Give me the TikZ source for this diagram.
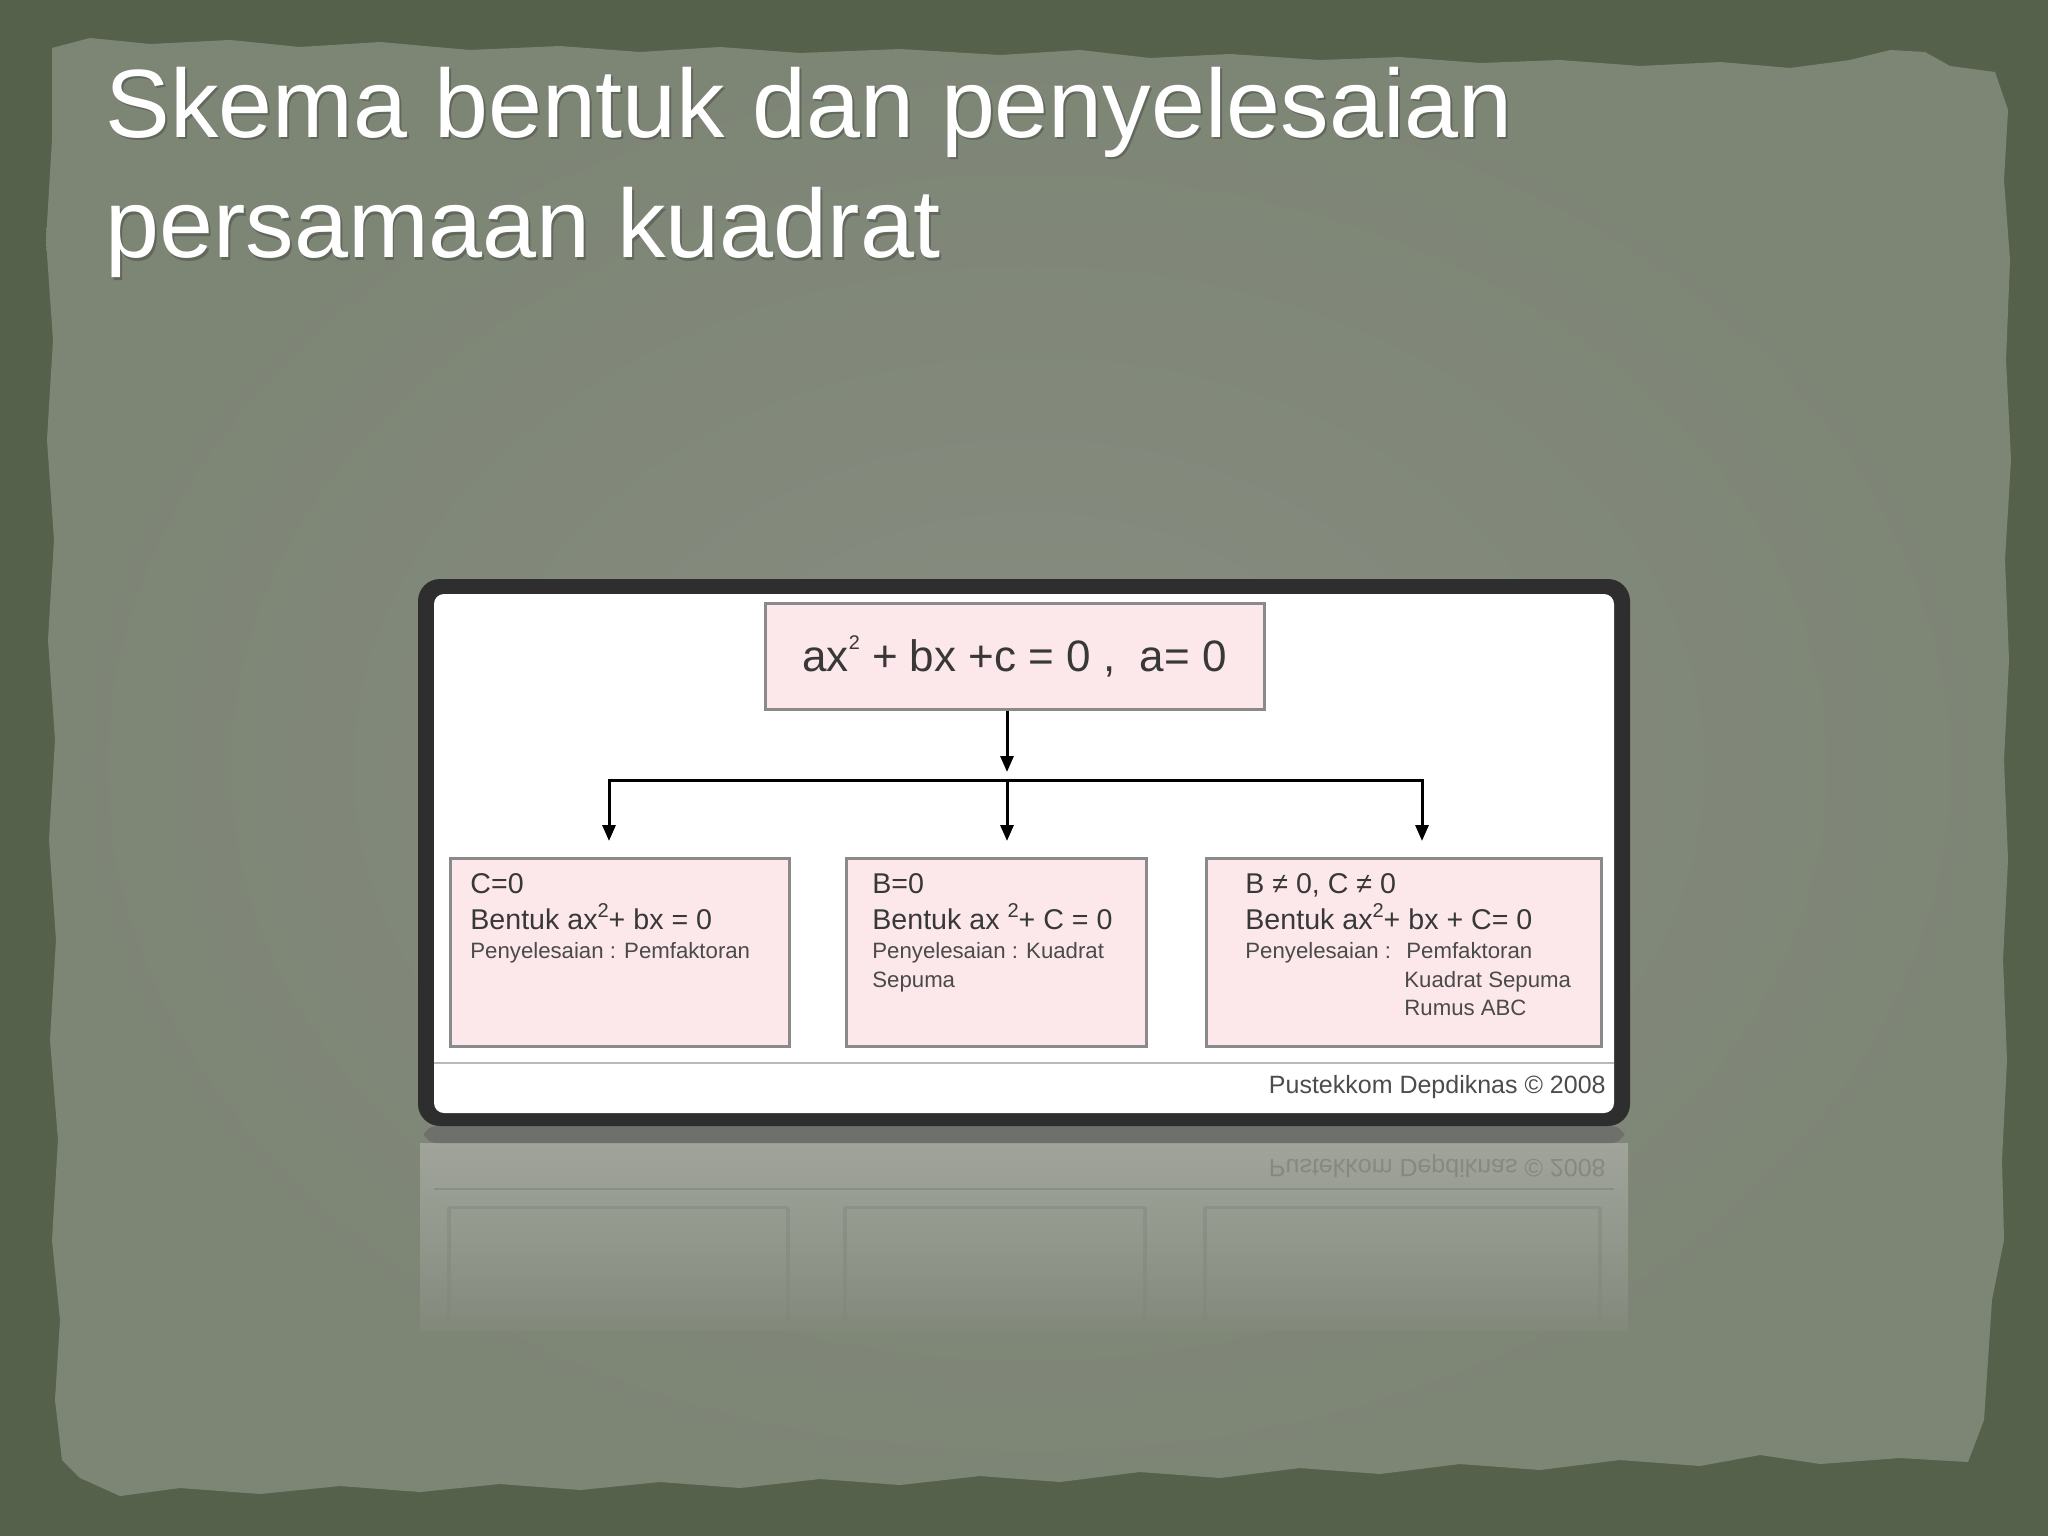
\documentclass[tikz,border=0pt]{standalone}
\usepackage{fontspec}
\usepackage{graphicx}
\setmainfont{Liberation Sans}
\usetikzlibrary{arrows.meta}
\definecolor{bgout}{HTML}{56614B}
\definecolor{paper}{HTML}{7D8575}
\definecolor{paperlight}{HTML}{878D81}
\definecolor{boxpink}{HTML}{FCE8EA}
\definecolor{boxline}{HTML}{8A8A8A}
\definecolor{txtdark}{HTML}{383838}
\definecolor{txtsmall}{HTML}{4A4A4A}
\definecolor{framecol}{HTML}{2E2E2E}
\definecolor{reflA}{HTML}{A0A49B}
\definecolor{reflB}{HTML}{82897B}
\definecolor{reflband}{HTML}{6E716B}
\newcommand\supsq{\raisebox{0.42em}{\scalebox{0.7}{2}}}
\newcommand\supsmall{\raisebox{0.5em}{\scalebox{0.45}{2}}}
\begin{document}
\begin{tikzpicture}[x=0.5pt,y=-0.5pt,
  pinkbox/.style={draw=boxline, fill=boxpink, line width=1.5pt, inner sep=0pt, anchor=north west},
  bigtxt/.style={font=\fontsize{14.3}{16}\selectfont, text=txtdark, inner sep=0pt, anchor=base west},
  smalltxt/.style={font=\fontsize{11.1}{13}\selectfont, text=txtsmall, inner sep=0pt, anchor=base west},
  foottxt/.style={font=\fontsize{12.5}{14}\selectfont, text=txtdark!90, inner sep=0pt, anchor=base east},
  titletxt/.style={font=\fontsize{48.5}{56}\selectfont, text=white, inner sep=0pt, anchor=base west},
  arr/.style={line width=1.5pt, -{Triangle[length=8pt,width=6.5pt]}},
  conn/.style={line width=1.5pt, line cap=rect}
]
\useasboundingbox (0,0) rectangle (2048,1536);
% background
\fill[bgout] (0,0) rectangle (2048,1536);
% torn paper
\shade[inner color=paperlight, outer color=paper]
 (52,48) -- (90,38) -- (150,44) -- (230,40) -- (300,47) -- (380,42) -- (470,50) -- (560,46) -- (640,52) -- (720,47) -- (800,53) -- (900,49) -- (1000,55) -- (1080,50) -- (1150,58) -- (1230,54) -- (1320,60) -- (1400,57) -- (1480,63) -- (1560,60) -- (1640,66) -- (1720,62) -- (1790,68) -- (1850,60) -- (1890,50) -- (1925,52) -- (1950,66) -- (1995,72)
 -- (2008,110) -- (2004,180) -- (2010,260) -- (2006,360) -- (2011,460) -- (2005,560) -- (2009,660) -- (2004,760) -- (2008,860) -- (2003,960) -- (2007,1060) -- (2002,1160) -- (2004,1240) -- (1992,1300) -- (1988,1360) -- (1984,1420) -- (1968,1462)
 -- (1900,1458) -- (1820,1464) -- (1760,1455) -- (1700,1466) -- (1620,1460) -- (1540,1470) -- (1460,1464) -- (1380,1474) -- (1300,1468) -- (1220,1478) -- (1140,1472) -- (1060,1482) -- (980,1476) -- (900,1485) -- (820,1479) -- (740,1488) -- (660,1482) -- (580,1490) -- (500,1484) -- (420,1492) -- (340,1486) -- (260,1494) -- (180,1488) -- (120,1496) -- (80,1478) -- (62,1460)
 -- (55,1400) -- (60,1320) -- (52,1240) -- (58,1140) -- (50,1040) -- (56,940) -- (49,840) -- (55,740) -- (48,640) -- (54,540) -- (47,440) -- (53,340) -- (46,240) -- (52,140) -- cycle;

% title
\node[titletxt, text=black, opacity=0.22] (t1s) at (107,140) {Skema bentuk dan penyelesaian};
\node[titletxt, text=black, opacity=0.22] (t2s) at (107,260) {persamaan kuadrat};
\node[titletxt] (t1) at (105,137) {Skema bentuk dan penyelesaian};
\node[titletxt] (t2) at (105,257) {persamaan kuadrat};

% reflection
\shade[top color=reflA, bottom color=reflB, middle color=reflA!55!reflB] (420,1143) rectangle (1628,1330);
\fill[reflband, rounded corners=6pt] (424,1126) rectangle (1624,1143);
\node[foottxt, yscale=-1, transform shape, opacity=0.28] (footr) at (1606,1159) {Pustekkom Depdiknas © 2008};
\draw[black, opacity=0.1, line width=1pt] (434,1189) -- (1614,1189);
\foreach \a/\b in {449/788, 845/1145, 1205/1600}{
  \draw[black, opacity=0.07, line width=1.5pt] (\a,1207) -- (\b,1207);
  \shade[top color=reflA!88!black, bottom color=reflB] (\a-1.5,1207) rectangle (\a+1.5,1320);
  \shade[top color=reflA!88!black, bottom color=reflB] (\b-1.5,1207) rectangle (\b+1.5,1320);
}

% frame
\fill[framecol, rounded corners=11pt] (418,579) rectangle (1630,1126);
\fill[white, rounded corners=5pt] (434,594) rectangle (1614,1113);
\draw[gray!55, line width=1pt] (434,1063) -- (1614,1063);
\node[foottxt] (foot) at (1606,1093) {Pustekkom Depdiknas © 2008};

% top box
\node[draw=boxline, fill=boxpink, line width=1.5pt, minimum width=249.5pt, minimum height=53pt,
      font=\fontsize{22}{26}\selectfont, text=txtdark, inner sep=0pt] (top) at (1014.5,656)
      {ax\supsmall\ + bx +c = 0 ,\ \ a= 0};

% bottom boxes
\node[pinkbox, minimum width=169.5pt, minimum height=94pt] (b1) at (449,857) {};
\node[pinkbox, minimum width=150pt, minimum height=94pt] (b2) at (845,857) {};
\node[pinkbox, minimum width=197.5pt, minimum height=94pt] (b3) at (1205,857) {};

% connectors
\coordinate (jt) at (1007,772);
\coordinate (j1) at (609,780);
\coordinate (j2) at (1007,780);
\coordinate (j3) at (1422,780);
\coordinate (a1) at (609,841);
\coordinate (a2) at (1007,841);
\coordinate (a3) at (1422,841);
\draw[arr] (top.south -| jt) -- (jt);
\draw[conn] (j1) -- (j3);
\draw[arr] (j1) -- (a1);
\draw[arr] (j2) -- (a2);
\draw[arr] (j3) -- (a3);

% box texts
\node[bigtxt] (b1l1) at (470,893) {C=0};
\node[bigtxt] (b1l2) at (470,929) {Bentuk ax\supsq+ bx = 0};
\node[smalltxt] (b1l3) at (470,958) {Penyelesaian : Pemfaktoran};

\node[bigtxt] (b2l1) at (872,893) {B=0};
\node[bigtxt] (b2l2) at (872,929) {Bentuk ax \supsq+ C = 0};
\node[smalltxt] (b2l3) at (872,958) {Penyelesaian : Kuadrat};
\node[smalltxt] (b2l4) at (872,987) {Sepuma};

\node[bigtxt] (b3l1) at (1245,893) {B ≠ 0, C ≠ 0};
\node[bigtxt] (b3l2) at (1245,929) {Bentuk ax\supsq+ bx + C= 0};
\node[smalltxt] (b3l3) at (1245,958) {Penyelesaian :};
\node[smalltxt] (b3m1) at (1406,958) {Pemfaktoran};
\node[smalltxt] (b3m2) at (1404,987) {Kuadrat Sepuma};
\node[smalltxt] (b3m3) at (1404,1015) {Rumus ABC};
\end{tikzpicture}
\end{document}
